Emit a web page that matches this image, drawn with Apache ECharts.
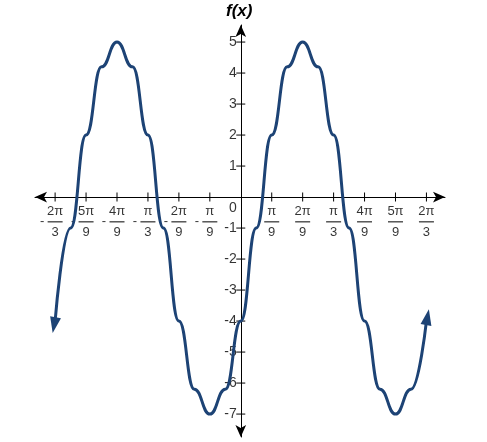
<!DOCTYPE html>
<html>
<head>
<meta charset="utf-8">
<script src="https://cdn.jsdelivr.net/npm/echarts@6/dist/echarts.min.js"></script>
<style>html,body{margin:0;padding:0;background:#fff}#chart{width:487px;height:442px}</style>
</head>
<body>
<div id="chart"></div>
<script>
// sample points, x in steps of π/18
const stepsX = [-12,-11,-10,-9,-8,-7,-6,-5,-4,-3,-2,-1,0,1,2,3,4,5,6,7,8,9,10,11,12];
const valuesY = [-4,-1,2,4.2,5,4.2,2,-1,-4,-6.2,-7,-6.2,-4,-1,2,4.2,5,4.2,2,-1,-4,-6.2,-7,-6.2,-4];

// x tick labels at multiples of π/9
const xTickSteps = [-6,-5,-4,-3,-2,-1,1,2,3,4,5,6];
const xTickNum = ['2π','5π','4π','π','2π','π','π','2π','π','4π','5π','2π'];
const xTickDen = ['3','9','9','3','9','9','9','9','3','9','9','3'];
const yTicks = [-7,-6,-5,-4,-3,-2,-1,1,2,3,4,5];

const U = Math.PI / 9;
const curve = stepsX.map((k, i) => [k * Math.PI / 18, valuesY[i]]);
const blue = '#1d4375';
const font = '"Liberation Sans", Arial, sans-serif';

const chart = echarts.init(document.getElementById('chart'));
chart.setOption({
  animation: false,
  grid: { left: 35, right: 42, top: 25, bottom: 5 },
  xAxis: {
    type: 'value', min: -6.65 * U, max: 6.6 * U,
    splitLine: { show: false }, axisLabel: { show: false }, axisTick: { show: false },
    axisLine: { onZero: true, symbol: ['arrow', 'arrow'], symbolSize: [8, 12], lineStyle: { color: '#000', width: 1 } }
  },
  yAxis: {
    type: 'value', min: -7.74, max: 5.55,
    splitLine: { show: false }, axisLabel: { show: false }, axisTick: { show: false },
    axisLine: { onZero: true, symbol: ['arrow', 'arrow'], symbolSize: [8, 12], lineStyle: { color: '#000', width: 1 } }
  },
  graphic: [{
    type: 'text', left: 226, top: 3,
    style: { text: 'f(x)', font: 'italic bold 17px "Liberation Sans", Arial, sans-serif', fill: '#000' }
  }],
  series: [
    {
      type: 'line', data: curve, smooth: true, smoothMonotone: 'x', showSymbol: false, silent: true, z: 5,
      lineStyle: { color: blue, width: 3 }
    },
    {
      type: 'scatter', symbol: 'triangle', symbolSize: [11, 16], z: 6, silent: true,
      itemStyle: { color: blue, opacity: 1 },
      data: [
        { value: curve[0], symbolRotate: 169.6, symbolOffset: [-1, 4] },
        { value: curve[curve.length - 1], symbolRotate: -10.4, symbolOffset: [1, -4] }
      ]
    },
    {
      // x ticks
      type: 'scatter', symbol: 'rect', symbolSize: [1, 9], silent: true, z: 3,
      itemStyle: { color: '#000', opacity: 1 },
      data: xTickSteps.map(k => [k * U, 0])
    },
    {
      // y ticks
      type: 'scatter', symbol: 'rect', symbolSize: [9, 1], silent: true, z: 3,
      itemStyle: { color: '#000', opacity: 1 },
      data: yTicks.map(v => [0, v])
    },
    {
      // fraction bars
      type: 'scatter', symbol: 'rect', symbolSize: [15, 1], silent: true, z: 3,
      itemStyle: { color: '#000', opacity: 1 },
      data: xTickSteps.map(k => [k * U, -0.8])
    },
    {
      type: 'scatter', symbolSize: 0, silent: true, z: 4,
      label: { show: true, position: 'inside', fontFamily: font, fontSize: 13, color: '#000', formatter: p => p.data[2] },
      data: [].concat(
        xTickSteps.map((k, i) => [k * U, -0.45, xTickNum[i]]),
        xTickSteps.map((k, i) => [k * U, -1.15, xTickDen[i]]),
        xTickSteps.filter(k => k < 0).map(k => [k * U - 0.42 * U, -0.8, '-'])
      )
    },
    {
      type: 'scatter', symbolSize: 0, silent: true, z: 4,
      label: { show: true, position: 'left', distance: 4, fontFamily: font, fontSize: 14, color: '#000', formatter: p => p.data[2] },
      data: yTicks.map(v => [0, v, String(v)]).concat([[0, -0.35, '0']])
    },
    {
      type: 'scatter', symbolSize: 0, silent: true, z: 4,
      label: { show: true, position: 'inside', fontFamily: font, fontSize: 17, fontWeight: 'bold', fontStyle: 'italic', color: '#000', formatter: p => p.data[2] },
      data: [[6.95 * U, 0, 'x']]
    }
  ]
});
</script>
</body>
</html>
